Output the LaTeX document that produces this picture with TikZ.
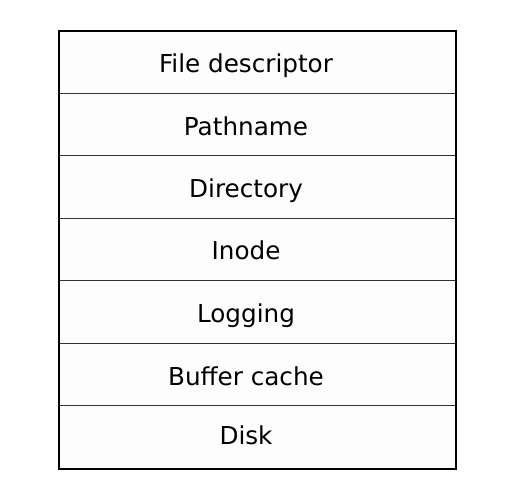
\documentclass[tikz,border=0pt]{standalone}
\usepackage{fontspec}
\setmainfont{DejaVu Sans}
\begin{document}
\begin{tikzpicture}[x=0.75pt,y=-0.75pt,
  layer/.style={anchor=base,font=\fontsize{18.5}{21}\selectfont,inner sep=0pt},
  sep/.style={draw=black!80,line width=0.75pt},
  outer/.style={draw=black,line width=1.5pt,fill=black!0.6}]
\useasboundingbox (0,0) rectangle (507,484);
\coordinate (nw) at (58.5,31);
\coordinate (se) at (455.5,469);
\fill[black!0.6] (nw) rectangle (se);
\foreach \i/\y in {1/93.5,2/156,3/218.5,4/281,5/343.5,6/406}{
  \coordinate (l\i) at (58.5,\y);
  \coordinate (r\i) at (455.5,\y);
  \draw[sep] (l\i) -- (r\i);
}
\node[layer] (fd) at (246,72.3) {File descriptor};
\node[layer] (pn) at (246,135.5) {Pathname};
\node[layer] (dir) at (246,197.8) {Directory};
\node[layer] (ino) at (246,260) {Inode};
\node[layer] (log) at (246,322.5) {Logging};
\node[layer] (buf) at (246,386) {Buffer cache};
\node[layer] (disk) at (246,445) {Disk};
\draw[line width=1.5pt] (nw) rectangle (se);
\end{tikzpicture}
\end{document}
